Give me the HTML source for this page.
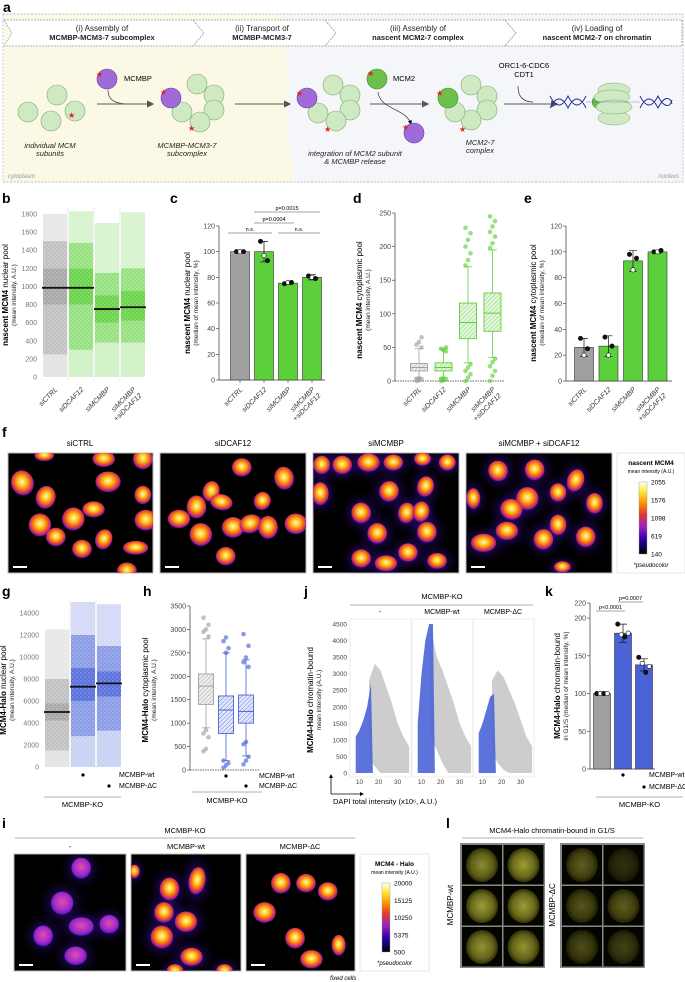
<!DOCTYPE html>
<html><head><meta charset="utf-8"><style>
html,body{margin:0;padding:0;background:#fff}
svg{display:block;font-family:"Liberation Sans",Arial,sans-serif}
.pl{font-weight:bold;font-size:14px}
</style></head><body>
<svg id="fig" width="685" height="982" viewBox="0 0 685 982" xmlns="http://www.w3.org/2000/svg">
<defs>
<radialGradient id="nuc" cx="50%" cy="45%" r="55%">
<stop offset="0" stop-color="#fffbb0"/><stop offset="0.35" stop-color="#ffc020"/><stop offset="0.65" stop-color="#f06018"/><stop offset="0.85" stop-color="#c02080"/><stop offset="1" stop-color="#4010b0"/>
</radialGradient>
<radialGradient id="nucDim" cx="50%" cy="45%" r="55%">
<stop offset="0" stop-color="#e050b0"/><stop offset="0.7" stop-color="#a028c8"/><stop offset="1" stop-color="#5018c0"/>
</radialGradient>
<radialGradient id="haze" cx="50%" cy="50%" r="50%">
<stop offset="0" stop-color="#4a18c0" stop-opacity="0.75"/><stop offset="1" stop-color="#200060" stop-opacity="0"/>
</radialGradient>
<radialGradient id="halo" cx="50%" cy="50%" r="50%">
<stop offset="0" stop-color="#b8b840"/><stop offset="0.7" stop-color="#7a7a20"/><stop offset="1" stop-color="#3a3a08"/>
</radialGradient>
<linearGradient id="cbar" x1="0" y1="1" x2="0" y2="0">
<stop offset="0" stop-color="#000"/><stop offset="0.2" stop-color="#2a00a8"/><stop offset="0.38" stop-color="#9a20c0"/><stop offset="0.55" stop-color="#e03a30"/><stop offset="0.72" stop-color="#ff9800"/><stop offset="0.88" stop-color="#ffee40"/><stop offset="1" stop-color="#fff"/>
</linearGradient>
<pattern id="speck" width="4" height="4" patternUnits="userSpaceOnUse"><circle cx="1" cy="1" r="0.7" fill="#fff"/><circle cx="3" cy="3" r="0.6" fill="#fff"/></pattern>
<pattern id="hatchG" width="3" height="3" patternUnits="userSpaceOnUse" patternTransform="rotate(45)"><rect width="3" height="3" fill="#e6f6e0"/><line x1="0" y1="0" x2="0" y2="3" stroke="#7ed860" stroke-width="1"/></pattern>
<pattern id="hatchGr" width="3" height="3" patternUnits="userSpaceOnUse" patternTransform="rotate(45)"><rect width="3" height="3" fill="#eee"/><line x1="0" y1="0" x2="0" y2="3" stroke="#aaa" stroke-width="1"/></pattern>
<pattern id="hatchB" width="3" height="3" patternUnits="userSpaceOnUse" patternTransform="rotate(45)"><rect width="3" height="3" fill="#e4e8fa"/><line x1="0" y1="0" x2="0" y2="3" stroke="#6a80e0" stroke-width="1"/></pattern>
<marker id="arr" markerWidth="6" markerHeight="6" refX="5" refY="3" orient="auto"><path d="M0,0 L6,3 L0,6 z" fill="#555"/></marker>
<marker id="arrK" markerWidth="6" markerHeight="6" refX="5" refY="3" orient="auto"><path d="M0,0 L6,3 L0,6 z" fill="#000"/></marker>
</defs>

<g>
<text x="3" y="12" class="pl">a</text>
<path d="M4,14 L282,14 C292,60 282,120 295,182 L4,182 Z" fill="#fbf8e6"/>
<path d="M282,14 L683,14 L683,182 L295,182 C282,120 292,60 282,14 Z" fill="#f4f6fa"/>
<rect x="3" y="14" width="680" height="168" fill="none" stroke="#aaa" stroke-dasharray="2,1.5" stroke-width="0.7"/>
<g fill="#fff" stroke="#999" stroke-width="0.7" stroke-dasharray="2,1">
<path d="M4,20 L193,20 L204,33 L193,46 L4,46 L12,33 Z"/>
<path d="M193,20 L325,20 L336,33 L325,46 L193,46 L204,33 Z"/>
<path d="M325,20 L505,20 L516,33 L505,46 L325,46 L336,33 Z"/>
<path d="M505,20 L682,20 L682,46 L505,46 L516,33 Z"/>
</g>
<g font-size="8" text-anchor="middle" fill="#222">
<text x="102" y="31"><tspan x="102">(i) Assembly of</tspan><tspan x="102" dy="9" font-weight="bold" font-size="7.5">MCMBP-MCM3-7 subcomplex</tspan></text>
<text x="262" y="31"><tspan x="262">(ii) Transport of</tspan><tspan x="262" dy="9" font-weight="bold" font-size="7.5">MCMBP-MCM3-7</tspan></text>
<text x="418" y="31"><tspan x="418">(iii) Assembly of</tspan><tspan x="418" dy="9" font-weight="bold" font-size="7.5">nascent MCM2-7 complex</tspan></text>
<text x="597" y="31"><tspan x="597">(iv) Loading of</tspan><tspan x="597" dy="9" font-weight="bold" font-size="7.5">nascent MCM2-7 on chromatin</tspan></text>
</g>
<g stroke="#7aa868" stroke-width="0.6" fill="#cfeac2">
<circle cx="28" cy="112" r="10"/><circle cx="57" cy="95" r="10"/><circle cx="51" cy="121" r="10"/><circle cx="75" cy="111" r="10"/>
</g>
<text x="68" y="118" fill="#e0201a" font-size="8">★</text>
<circle cx="107" cy="79" r="10" fill="#a06ad8" stroke="#6a3aa0" stroke-width="0.6"/>
<text x="96" y="77" fill="#e0201a" font-size="8">★</text>
<text x="124" y="81" font-size="7.5">MCMBP</text>
<path d="M108,90 C108,102 118,104 130,104" fill="none" stroke="#333" stroke-width="0.7"/>
<line x1="97" y1="104" x2="153" y2="104" stroke="#777" stroke-width="1.2" marker-end="url(#arr)"/>
<g stroke="#7aa868" stroke-width="0.6" fill="#cfeac2">
<circle cx="197" cy="84" r="10"/><circle cx="214" cy="95" r="10"/><circle cx="214" cy="110" r="10"/><circle cx="200" cy="122" r="10"/><circle cx="182" cy="112" r="10"/>
</g>
<circle cx="171" cy="98" r="10" fill="#a06ad8" stroke="#6a3aa0" stroke-width="0.6"/>
<text x="160" y="95" fill="#e0201a" font-size="8">★</text><text x="188" y="131" fill="#e0201a" font-size="8">★</text>
<line x1="235" y1="104" x2="290" y2="104" stroke="#777" stroke-width="1.2" marker-end="url(#arr)"/>
<g stroke="#7aa868" stroke-width="0.6" fill="#cfeac2">
<circle cx="333" cy="85" r="10"/><circle cx="350" cy="95" r="10"/><circle cx="350" cy="110" r="10"/><circle cx="336" cy="121" r="10"/><circle cx="318" cy="113" r="10"/>
</g>
<circle cx="307" cy="98" r="10" fill="#a06ad8" stroke="#6a3aa0" stroke-width="0.6"/>
<text x="296" y="96" fill="#e0201a" font-size="8">★</text><text x="324" y="132" fill="#e0201a" font-size="8">★</text>
<circle cx="377" cy="79" r="10" fill="#6cbf4a" stroke="#3e8a28" stroke-width="0.6"/>
<text x="367" y="76" fill="#e0201a" font-size="8">★</text>
<text x="393" y="81" font-size="7.5">MCM2</text>
<line x1="370" y1="104" x2="428" y2="104" stroke="#777" stroke-width="1.2" marker-end="url(#arr)"/>
<path d="M378,92 C380,110 406,108 411,124" fill="none" stroke="#333" stroke-width="0.7" marker-end="url(#arrK)"/>
<circle cx="414" cy="133" r="10" fill="#a06ad8" stroke="#6a3aa0" stroke-width="0.6"/>
<text x="402" y="130" fill="#e0201a" font-size="8">★</text>
<g stroke="#7aa868" stroke-width="0.6" fill="#cfeac2">
<circle cx="471" cy="85" r="10"/><circle cx="487" cy="96" r="10"/><circle cx="487" cy="110" r="10"/><circle cx="471" cy="120" r="10"/><circle cx="455" cy="112" r="10"/>
</g>
<circle cx="448" cy="98" r="10" fill="#6cbf4a" stroke="#3e8a28" stroke-width="0.6"/>
<text x="436" y="96" fill="#e0201a" font-size="8">★</text><text x="459" y="132" fill="#e0201a" font-size="8">★</text>
<text x="524" y="68" font-size="7.5" text-anchor="middle"><tspan x="524">ORC1-6-CDC6</tspan><tspan x="524" dy="9">CDT1</tspan></text>
<path d="M518,86 C518,98 524,102 533,102" fill="none" stroke="#333" stroke-width="0.7"/>
<line x1="504" y1="104" x2="557" y2="104" stroke="#777" stroke-width="1.2" marker-end="url(#arr)"/>
<g>
<ellipse cx="614" cy="90" rx="16" ry="7" fill="#cfeac2" stroke="#7aa868" stroke-width="0.5"/>
<ellipse cx="614" cy="118" rx="16" ry="7" fill="#cfeac2" stroke="#7aa868" stroke-width="0.5"/>
<path d="M550,96 C556,108 562,108 568,96 C574,108 580,108 586,96 M550,108 C556,96 562,96 568,108 C574,96 580,96 586,108 M640,96 C646,108 652,108 658,96 C664,108 670,108 672,100 M640,108 C646,96 652,96 658,108 C664,96 670,96 672,104" fill="none" stroke="#1c2a90" stroke-width="0.9"/>
<ellipse cx="600" cy="102" rx="8" ry="7" fill="#6cbf4a" stroke="#3e8a28" stroke-width="0.5"/>
<ellipse cx="612" cy="97" rx="18" ry="7" fill="#cfeac2" stroke="#7aa868" stroke-width="0.5"/>
<ellipse cx="614" cy="107" rx="18" ry="7" fill="#cfeac2" stroke="#7aa868" stroke-width="0.5"/>
<line x1="586" y1="102" x2="640" y2="102" stroke="#1c2a90" stroke-width="0.5" opacity="0.5"/>
</g>
<g font-size="7.5" font-style="italic" text-anchor="middle" fill="#222">
<text x="50" y="148"><tspan x="50">individual MCM</tspan><tspan x="50" dy="8">subunits</tspan></text>
<text x="187" y="148"><tspan x="187">MCMBP-MCM3-7</tspan><tspan x="187" dy="8">subcomplex</tspan></text>
<text x="355" y="156"><tspan x="355">integration of MCM2 subunit</tspan><tspan x="355" dy="8">&amp; MCMBP release</tspan></text>
<text x="480" y="145"><tspan x="480">MCM2-7</tspan><tspan x="480" dy="8">complex</tspan></text>
</g>
<text x="8" y="178" font-size="6" font-style="italic" fill="#999">cytoplasm</text>
<text x="679" y="178" font-size="6" font-style="italic" fill="#999" text-anchor="end">nucleus</text>
</g>

<text x="2" y="203" class="pl">b</text>
<text x="170" y="203" class="pl">c</text>
<text x="353" y="203" class="pl">d</text>
<text x="524" y="203" class="pl">e</text>
<text x="2" y="437" class="pl">f</text>
<text x="2" y="596" class="pl">g</text>
<text x="143" y="596" class="pl">h</text>
<text x="304" y="596" class="pl">j</text>
<text x="545" y="596" class="pl">k</text>
<text x="2" y="828" class="pl">i</text>
<text x="446" y="828" class="pl">l</text>

<g id="charts"></g>
<g id="images"></g>
</svg>
<script>
const siCats=['siCTRL','siDCAF12','siMCMBP','siMCMBP+siDCAF12'];
const bTicks=[0,200,400,600,800,1000,1200,1400,1600,1800];
const bMin=[0,0,0,0];
const bP5=[250,300,380,380];
const bP25=[800,800,600,620];
const bMedian=[985,985,750,770];
const bP75=[1200,1200,900,950];
const bP95=[1500,1480,1150,1200];
const bMax=[1800,1830,1700,1820];

const cTicks=[0,20,40,60,80,100,120];
const cMeans=[100,100,75.5,80];
const cSD=[0,8,1,2];
const cReps=[[100,100,100],[108,97,93],[75,76,76],[81,80,79]];

const dTicks=[0,50,100,150,200,250];
const dQ1=[15,15,63,74];
const dMed=[20,20,87,101];
const dQ3=[26,27,116,131];
const dLo=[5,5,27,35];
const dHi=[48,48,170,195];
const dOutLow=[[0,1,2,3,4],[0,1,2,3,4],[0,5,10,15,20,25],[0,8,15,22,28,33]];
const dOutHigh=[[50,54,58,65],[50,48,46,44],[172,180,190,200,210,220,228],[198,205,215,222,230,238,245]];

const eTicks=[0,20,40,60,80,100,120];
const eMeans=[26,27,93,100];
const eSD=[7,8,8,1];
const eReps=[[33,20,25],[34,20,27],[98,86,95],[100,100,101]];

const koCats=['-','MCMBP-wt','MCMBP-ΔC'];
const gTicks=[0,2000,4000,6000,8000,10000,12000,14000];
const gMin=[0,0,0];
const gP5=[1500,2800,3300];
const gP25=[4200,6000,6400];
const gMedian=[5000,7300,7600];
const gP75=[5800,9000,8700];
const gP95=[8000,12000,11000];
const gMax=[12500,15000,14800];

const hTicks=[0,500,1000,1500,2000,2500,3000,3500];
const hQ1=[1400,780,1000];
const hMed=[1790,1280,1250];
const hQ3=[2050,1580,1600];
const hLo=[900,200,300];
const hHi=[2800,2500,2350];
const hOutLow=[[400,450,700,780,850],[50,100,150,200],[120,200,280,550,600]];
const hOutHigh=[[2850,2950,3000,3100,3250],[2500,2600,2750,2830],[2200,2300,2400,2650,2900]];

const jYTicks=[0,500,1000,1500,2000,2500,3000,3500,4000,4500];
const jXTicks=[10,20,30];
const jBlueBins=[8,10,12,14,16];
const jBlueTop=[[1100,1300,1600,2000,2700],[1500,3000,4000,4500,4500],[1200,1500,1900,2300,2400]];
const jGrayBins=[15,18,21,24,27,30,33,36];
const jGrayTop=[[2800,3300,3100,2600,2100,1500,1100,800],[4300,3500,3100,2600,2100,1500,1100,800],[2800,3100,2900,2500,2100,1600,1100,800]];
const jGrayBot=[[400,200,0,0,0,0,0,0],[1000,700,300,0,0,0,0,0],[600,300,100,0,0,0,0,0]];

const kTicks=[0,50,100,150,200,220];
const kMeans=[100,180,138];
const kSD=[0,12,8];
const kReps=[[100,100,100,100],[192,178,175,180],[148,140,128,136]];

const NS='http://www.w3.org/2000/svg';
const root=document.getElementById('charts');
function mk(tag,a,p){const e=document.createElementNS(NS,tag);for(const k in a)e.setAttribute(k,a[k]);(p||root).appendChild(e);return e;}
function tx(x,y,s,a,p){const e=mk('text',Object.assign({x:x,y:y},a||{}),p);e.textContent=s;return e;}
const GREEN='#5cd03a',GRAY='#a0a0a0',BLUE='#4a64d8';

function yAxis(x,scale,ticks,top,bottom,name,fmt){
  const ax=mk('line',{x1:x,y1:top,x2:x,y2:bottom,stroke:'#333','stroke-width':0.7});
  
  
  ticks.forEach(v=>{
    mk('line',{x1:x-3,y1:scale(v),x2:x,y2:scale(v),stroke:'#333','stroke-width':0.6});
    const t=tx(x-4,scale(v)+2.5,fmt?fmt(v):String(v),{'font-size':7,'text-anchor':'end',fill:'#444'});
    
    
  });
}
function yTitle(x,y,bold,rest,sub,name){
  const t=mk('text',{transform:'translate('+x+','+y+') rotate(-90)','text-anchor':'middle','font-size':8});
  
  
  const a=document.createElementNS(NS,'tspan');a.setAttribute('font-weight','bold');a.textContent=bold;t.appendChild(a);
  const b=document.createElementNS(NS,'tspan');b.textContent=rest;t.appendChild(b);
  const s=mk('text',{transform:'translate('+(x+8)+','+y+') rotate(-90)','text-anchor':'middle','font-size':6.5,fill:'#222'});
  s.textContent=sub;
  
  
}
function xCatLabels(xs,y,cats,name){
  cats.forEach((c,i)=>{
    const parts=c.split('+');
    const t=mk('text',{transform:'translate('+(xs(i)+3)+','+y+') rotate(-45)','text-anchor':'end','font-size':7,'font-style':'italic',fill:'#333'});
    t.textContent=parts[0];
    
    
    if(parts.length>1){
      const t2=mk('text',{transform:'translate('+(xs(i)+9)+','+(y+6)+') rotate(-45)','text-anchor':'end','font-size':7,'font-style':'italic',fill:'#333'});
      t2.textContent='+'+parts[1];
      
      
    }
  });
}
function cloud(xl,w,scale,lo,p5,p25,med,p75,p95,hi,color,name){
  const segs=[[lo,p5,0.3],[p5,p25,0.65],[p25,p75,0.92],[p75,p95,0.65],[p95,hi,0.25]];
  segs.forEach(s=>{
    const r=mk('rect',{x:xl+1,y:scale(s[1]),width:w-2,height:Math.max(0,scale(s[0])-scale(s[1])),fill:color,opacity:s[2]});
    
    
  });
  mk('rect',{x:xl+1,y:scale(hi),width:w-2,height:scale(lo)-scale(hi),fill:'url(#speck)',opacity:0.45});
  const m=mk('line',{x1:xl,y1:scale(med),x2:xl+w,y2:scale(med),stroke:'#111','stroke-width':1.8});
  
  
}
function barChart(xs,scale,means,sd,reps,colors,w,name){
  means.forEach((v,i)=>{
    const b=mk('rect',{x:xs(i)-w/2,y:scale(v),width:w,height:scale(0)-scale(v),fill:colors[i],stroke:'#333','stroke-width':0.6});
    
    
    const e=mk('path',{d:'M'+xs(i)+','+scale(v+sd[i])+'V'+scale(v-sd[i])+'M'+(xs(i)-4)+','+scale(v+sd[i])+'h8M'+(xs(i)-4)+','+scale(v-sd[i])+'h8',stroke:'#111','stroke-width':0.7,fill:'none'});
    
    
    reps[i].forEach((r,j)=>{
      const d=mk('circle',{cx:xs(i)+(j-(reps[i].length-1)/2)*3.5,cy:scale(r),r:2.2,fill:j%2?'#fff':'#111',stroke:'#111','stroke-width':0.6});
      
      
    });
  });
}
function boxChart(xs,scale,q1,med,q3,lo,hi,outL,outH,colors,fills,w,name){
  q1.forEach((v,i)=>{
    const c=colors[i];
    const wl=mk('path',{d:'M'+xs(i)+','+scale(hi[i])+'V'+scale(q3[i])+'M'+xs(i)+','+scale(q1[i])+'V'+scale(lo[i])+'M'+(xs(i)-w/4)+','+scale(hi[i])+'h'+(w/2)+'M'+(xs(i)-w/4)+','+scale(lo[i])+'h'+(w/2),stroke:c,'stroke-width':0.8,fill:'none'});
    
    
    const b=mk('rect',{x:xs(i)-w/2,y:scale(q3[i]),width:w,height:scale(q1[i])-scale(q3[i]),fill:fills[i],stroke:c,'stroke-width':0.9});
    
    
    const m=mk('line',{x1:xs(i)-w/2,y1:scale(med[i]),x2:xs(i)+w/2,y2:scale(med[i]),stroke:c,'stroke-width':1});
    
    
    outL[i].concat(outH[i]).forEach((o,j)=>{
      const d=mk('circle',{cx:xs(i)+((j%3)-1)*2.5,cy:scale(o),r:2.3,fill:c,opacity:0.65});
      
      
    });
  });
}
function koLegend(x,yWt,yDc,dotX1,dotX2,lineX1,lineX2,lineY,koY,name){
  const d1=mk('circle',{cx:dotX1,cy:yWt,r:1.6,fill:'#000'});
  
  
  const d2=mk('circle',{cx:dotX2,cy:yDc,r:1.6,fill:'#000'});
  
  
  const t1=tx(x,yWt+2,'MCMBP-wt',{'font-size':7});
  
  
  const t2=tx(x,yDc+2,'MCMBP-ΔC',{'font-size':7});
  
  
  const l=mk('line',{x1:lineX1,y1:lineY,x2:lineX2,y2:lineY,stroke:'#999','stroke-width':0.8});
  
  
  const k=tx((lineX1+lineX2)/2,koY,'MCMBP-KO',{'font-size':7.5,'text-anchor':'middle'});
  
  
}
function sig(x1,x2,y,label,name){
  const l=mk('line',{x1:x1,y1:y,x2:x2,y2:y,stroke:'#888','stroke-width':0.8});
  
  
  const t=tx((x1+x2)/2,y-2,label,{'font-size':5.5,'text-anchor':'middle'});
  
  
}

// PANEL B
const yB=v=>377-v/1800*163;
const xB=i=>42+i*26;
[1,2,3].forEach(i=>mk('line',{x1:xB(i),y1:207,x2:xB(i),y2:381,stroke:'#ddd','stroke-width':0.6}));
siCats.forEach((c,i)=>cloud(xB(i),26,yB,bMin[i],bP5[i],bP25[i],bMedian[i],bP75[i],bP95[i],bMax[i],i?GREEN:GRAY,'b-'+c));
bTicks.forEach(v=>{const t=tx(37,yB(v)+2.5,String(v),{'font-size':7,'text-anchor':'end',fill:'#777'});});
yTitle(8,295,'nascent MCM4',' nuclear pool','(mean intensity, A.U.)','b');
xCatLabels(i=>xB(i)+13,390,siCats,'b');

// PANEL C
const yC=v=>380-v/120*154;
const xC=i=>240+i*24;
yAxis(219,yC,cTicks,226,380,'c');
mk('line',{x1:219,y1:380,x2:325,y2:380,stroke:'#333','stroke-width':0.7});
barChart(xC,yC,cMeans,cSD,cReps,[GRAY,GREEN,GREEN,GREEN],19,'c');
siCats.forEach((c,i)=>mk('line',{x1:xC(i),y1:380,x2:xC(i),y2:383,stroke:'#333','stroke-width':0.6}));
sig(228,272,233,'n.s.','c');sig(278,320,233,'n.s.','c');
sig(254,294,223,'p=0.0004','c');sig(254,320,212,'p=0.0015','c');
yTitle(190,303,'nascent MCM4',' nuclear pool','(median of mean intensity, %)','c');
xCatLabels(xC,390,siCats,'c');

// PANEL D
const yD=v=>381-v/250*168;
const xD=i=>419+i*24.5;
yAxis(395,yD,dTicks,213,381,'d');
mk('line',{x1:395,y1:381,x2:505,y2:381,stroke:'#333','stroke-width':0.7,'stroke-dasharray':'1.5,1'});
boxChart(xD,yD,dQ1,dMed,dQ3,dLo,dHi,dOutLow,dOutHigh,[GRAY,GREEN,GREEN,GREEN],['url(#hatchGr)','url(#hatchG)','url(#hatchG)','url(#hatchG)'],17,'d');
yTitle(362,300,'nascent MCM4',' cytoplasmic pool','(mean intensity, A.U.)','d');
xCatLabels(xD,390,siCats,'d');

// PANEL E
const yE=v=>381-v/120*155;
const xE=i=>584+i*24.5;
yAxis(566,yE,eTicks,226,381,'e');
mk('line',{x1:566,y1:381,x2:672,y2:381,stroke:'#333','stroke-width':0.7});
barChart(xE,yE,eMeans,eSD,eReps,[GRAY,GREEN,GREEN,GREEN],19,'e');
yTitle(536,303,'nascent MCM4',' cytoplasmic pool','(median of mean intensity, %)','e');
xCatLabels(xE,390,siCats,'e');

// PANEL G
const yG=v=>767-v/14000*154;
const xG=i=>44+i*26;
[1,2].forEach(i=>mk('line',{x1:xG(i),y1:600,x2:xG(i),y2:768,stroke:'#ddd','stroke-width':0.6}));
koCats.forEach((c,i)=>cloud(xG(i),26,yG,gMin[i],gP5[i],gP25[i],gMedian[i],gP75[i],gP95[i],gMax[i],i?BLUE:GRAY,'g-'+c));
gTicks.forEach(v=>{const t=tx(39,yG(v)+2.5,String(v),{'font-size':7,'text-anchor':'end',fill:'#777'});});
yTitle(6,690,'MCM4-Halo',' nuclear pool','(mean intensity, A.U.)','g');
koLegend(119,775,786,xG(1)+13,xG(2)+13,44,121,797,807,'g');

// PANEL H
const yH=v=>770-v/3500*164;
const xH=i=>206+i*20;
yAxis(190,yH,hTicks,606,770,'h');
mk('line',{x1:190,y1:770,x2:260,y2:770,stroke:'#333','stroke-width':0.7,'stroke-dasharray':'1.5,1'});
boxChart(xH,yH,hQ1,hMed,hQ3,hLo,hHi,hOutLow,hOutHigh,[GRAY,BLUE,BLUE],['url(#hatchGr)','url(#hatchB)','url(#hatchB)'],15,'h');
yTitle(148,690,'MCM4-Halo',' cytoplasmic pool','(mean intensity, A.U.)','h');
koLegend(259,776,786,xH(1),xH(2),192,262,792,803,'h');

// PANEL J
const yJ=v=>773-v/4500*149;
const jX0=[350,412,473];
const xJ=(k,v)=>jX0[k]+(v-5)/32*61;
const jt=tx(442,599,'MCMBP-KO',{'font-size':7.5,'text-anchor':'middle'});


mk('line',{x1:350,y1:605,x2:533,y2:605,stroke:'#999','stroke-width':0.8});
koCats.forEach((c,k)=>{
  const h=tx(jX0[k]+30,614,c,{'font-size':7,'text-anchor':'middle'});
  
  
  mk('rect',{x:jX0[k],y:619,width:61,height:158,fill:'none',stroke:'#e2e2e2','stroke-width':0.6});
  let gp=jGrayBins.map((b,i)=>xJ(k,b)+','+yJ(jGrayTop[k][i])).join(' ');
  gp+=' '+jGrayBins.slice().reverse().map((b,i)=>xJ(k,b)+','+yJ(jGrayBot[k][jGrayBins.length-1-i])).join(' ');
  const g=mk('polygon',{points:gp,fill:'#c4c4c4',opacity:0.85});
  
  
  let bp=xJ(k,jBlueBins[0])+','+yJ(0)+' '+jBlueBins.map((b,i)=>xJ(k,b)+','+yJ(jBlueTop[k][i])).join(' ')+' '+xJ(k,jBlueBins[jBlueBins.length-1]+1)+','+yJ(0);
  const b=mk('polygon',{points:bp,fill:BLUE,opacity:0.9});
  
  
  jXTicks.forEach(v=>{const t=tx(xJ(k,v),784,String(v),{'font-size':6.5,'text-anchor':'middle',fill:'#444'});});
});
jYTicks.forEach(v=>{const t=tx(347,yJ(v)+2.5,String(v),{'font-size':6.5,'text-anchor':'end',fill:'#444'});});
yTitle(313,700,'MCM4-Halo',' chromatin-bound','mean intensity (A.U.)','j');
mk('path',{d:'M331,794 V776 M331,794 H362',stroke:'#000','stroke-width':0.8,fill:'none'});
mk('path',{d:'M329,778 L331,774 L333,778 Z M360,792 L364,794 L360,796 Z',fill:'#000'});
const jxt=tx(333,804,'DAPI total intensity (x10⁶, A.U.)',{'font-size':7.5});



// PANEL K
const yK=v=>769-v/220*166;
const xK=i=>602+i*21;
yAxis(590,yK,kTicks,603,769,'k');
mk('line',{x1:590,y1:769,x2:655,y2:769,stroke:'#333','stroke-width':0.7});
barChart(xK,yK,kMeans,kSD,kReps,[GRAY,BLUE,BLUE],17,'k');
sig(596,625,611,'p<0.0001','k');sig(618,643,602,'p=0.0007','k');
yTitle(560,686,'MCM4-Halo',' chromatin-bound','in G1/S (median of mean intensity, %)','k');
koLegend(649,775,787,xK(1),xK(2),596,683,797,807,'k');

// MICROSCOPY
const img=document.getElementById('images');
function micro(x,y,w,h,nuclei,haze,grad,name){
  const g=mk('g',{},img);
  
  
  mk('rect',{x:x,y:y,width:w,height:h,fill:'#000',stroke:'#bbb','stroke-width':1},g);
  const cp=mk('clipPath',{id:'cp'+name},g);
  mk('rect',{x:x,y:y,width:w,height:h},cp);
  const inner=mk('g',{'clip-path':'url(#cp'+name+')'},g);
  if(haze){nuclei.forEach(n=>mk('ellipse',{cx:x+n[0]*w,cy:y+n[1]*h,rx:n[2]*3,ry:n[3]*2.4,fill:'url(#haze)'},inner));}
  nuclei.forEach(n=>mk('ellipse',{cx:x+n[0]*w,cy:y+n[1]*h,rx:n[2]*1.4,ry:n[3]*1.15,fill:'url(#'+grad+')',transform:'rotate('+(n[4]||0)+','+(x+n[0]*w)+','+(y+n[1]*h)+')'},inner));
  mk('rect',{x:x+5,y:y+h-7,width:14,height:2,fill:'#fff'},g);
}
const N1=[[0.1,0.25,8,11,-20],[0.26,0.37,7,10,15],[0.45,0.55,8,10,20],[0.59,0.47,8,7,0],[0.22,0.6,8,10,0],[0.33,0.7,7,8,0],[0.69,0.24,9,9,0],[0.93,0.05,7,9,0],[0.93,0.35,6,8,0],[0.95,0.56,8,9,0],[0.66,0.72,6,9,20],[0.51,0.8,7,8,0],[0.88,0.79,9,6,0],[0.82,0.98,7,7,0],[0.66,0.05,8,7,0],[0.25,0.02,7,5,0]];
const N2=[[0.56,0.12,7,8,0],[0.85,0.21,7,10,-10],[0.35,0.32,6,9,15],[0.25,0.45,7,10,0],[0.42,0.41,8,7,10],[0.7,0.4,6,8,20],[0.13,0.55,8,8,0],[0.5,0.62,8,9,0],[0.62,0.59,8,8,-20],[0.74,0.62,7,10,0],[0.93,0.59,8,9,0],[0.28,0.68,8,10,-15],[0.45,0.86,7,8,0]];
const N3=[[0.06,0.1,6,8,0],[0.2,0.1,7,8,0],[0.38,0.08,8,8,0],[0.55,0.08,7,7,0],[0.75,0.05,6,6,0],[0.92,0.08,6,7,0],[0.77,0.28,6,9,15],[0.05,0.34,6,10,0],[0.52,0.32,7,9,20],[0.33,0.5,7,9,-10],[0.64,0.5,6,9,10],[0.74,0.49,6,9,10],[0.44,0.67,7,9,0],[0.78,0.66,7,9,0],[0.65,0.83,7,8,0],[0.33,0.88,7,8,0],[0.5,0.92,8,7,0],[0.85,0.9,7,7,0]];
const N4=[[0.22,0.15,7,9,-20],[0.47,0.14,7,9,0],[0.75,0.23,6,10,20],[0.42,0.38,8,10,0],[0.31,0.47,8,9,20],[0.63,0.33,6,8,0],[0.05,0.38,5,9,0],[0.88,0.42,6,9,0],[0.63,0.6,6,9,0],[0.28,0.65,8,8,0],[0.53,0.72,7,9,10],[0.82,0.7,7,9,0],[0.12,0.75,9,8,0],[0.66,0.95,6,5,0]];
micro(8,453,145,120,N1,false,'nuc','f-image-sictrl');
micro(160,453,146,120,N2,false,'nuc','f-image-sidcaf12');
micro(313,453,146,120,N3,true,'nuc','f-image-simcmbp');
micro(466,453,146,120,N4,true,'nuc','f-image-simcmbp-sidcaf12');
[['siCTRL',80],['siDCAF12',233],['siMCMBP',386],['siMCMBP + siDCAF12',539]].forEach(l=>{
  const t=tx(l[1],446,l[0],{'font-size':8,'text-anchor':'middle'},img);
  
  
});
function cbar(x,y,w,h,gx,gy,gh,title,labels,name){
  const g=mk('g',{},img);
  
  
  mk('rect',{x:x,y:y,width:w,height:h,fill:'#fff',stroke:'#ddd','stroke-width':0.7},g);
  tx(x+w/2,y+12,title,{'font-size':6.5,'font-weight':'bold','text-anchor':'middle'},g);
  tx(x+w/2,y+20,'mean intensity (A.U.)',{'font-size':5,'text-anchor':'middle'},g);
  mk('rect',{x:gx,y:gy,width:8,height:gh,fill:'url(#cbar)',stroke:'#999','stroke-width':0.4},g);
  labels.forEach((l,i)=>tx(gx+12,gy+i*gh/(labels.length-1)+2.5,l,{'font-size':6.5},g));
  tx(x+w/2,y+h-6,'*pseudocolor',{'font-size':6,'font-style':'italic','text-anchor':'middle'},g);
}
cbar(617,453,68,120,639,482,72,'nascent MCM4',['2055','1576','1098','619','140'],'f-colorbar');

const it=tx(185,833,'MCMBP-KO',{'font-size':7.5,'text-anchor':'middle'},img);


mk('line',{x1:15,y1:838,x2:355,y2:838,stroke:'#999','stroke-width':0.8},img);
[['-',70],['MCMBP-wt',186],['MCMBP-ΔC',300]].forEach(l=>{
  const t=tx(l[1],849,l[0],{'font-size':7.5,'text-anchor':'middle'},img);
  
  
});
const I1=[[0.6,0.12,7,9,0],[0.43,0.42,8,10,0],[0.6,0.62,9,8,0],[0.85,0.6,7,8,0],[0.26,0.7,7,9,0],[0.55,0.87,8,8,0]];
const I2=[[0.35,0.3,7,10,0],[0.6,0.23,6,12,10],[0.3,0.5,7,9,0],[0.5,0.58,8,9,0],[0.28,0.71,8,10,0],[0.55,0.88,8,8,0],[0.4,1.0,6,6,0],[0.85,1.0,6,6,0],[0.03,0.15,4,6,0]];
const I3=[[0.32,0.25,7,9,0],[0.55,0.25,7,8,0],[0.75,0.32,7,8,0],[0.17,0.5,8,9,0],[0.45,0.72,7,9,0],[0.85,0.78,5,9,0],[0.6,0.9,8,8,0]];
micro(14,854,112,117,I1,true,'nucDim','i-image-ko');
micro(131,854,110,117,I2,true,'nuc','i-image-wt');
micro(246,854,109,117,I3,false,'nuc','i-image-dc');
cbar(360,854,69,117,382,883,69,'MCM4 - Halo',['20000','15125','10250','5375','500'],'i-colorbar');
tx(330,980,'fixed cells',{'font-size':6,'font-style':'italic'},img);

const lt=tx(552,833,'MCM4-Halo chromatin-bound in G1/S',{'font-size':7.5,'text-anchor':'middle'},img);


mk('line',{x1:462,y1:838,x2:643,y2:838,stroke:'#999','stroke-width':0.8},img);
function tiles(x,y,bright,name){
  const g=mk('g',{},img);
  
  
  mk('rect',{x:x,y:y,width:85,height:125,fill:'#888'},g);
  for(let r=0;r<3;r++)for(let c=0;c<2;c++){
    const tx0=x+2+c*41.5,ty0=y+2+r*41;
    mk('rect',{x:tx0,y:ty0,width:40,height:39.5,fill:'#050500'},g);
    mk('ellipse',{cx:tx0+20,cy:ty0+20,rx:16,ry:17,fill:'url(#halo)',opacity:bright[r*2+c]},g);
  }
}
tiles(460,843,[0.75,0.85,0.85,0.85,0.8,0.8],'l-tiles-wt');
tiles(560,843,[0.5,0.25,0.45,0.5,0.4,0.35],'l-tiles-dc');
const l1=tx(0,0,'MCMBP-wt',{'font-size':8,'text-anchor':'middle',transform:'translate(453,905) rotate(-90)'},img);


const l2=tx(0,0,'MCMBP-ΔC',{'font-size':8,'text-anchor':'middle',transform:'translate(555,905) rotate(-90)'},img);


</script>
</body></html>
